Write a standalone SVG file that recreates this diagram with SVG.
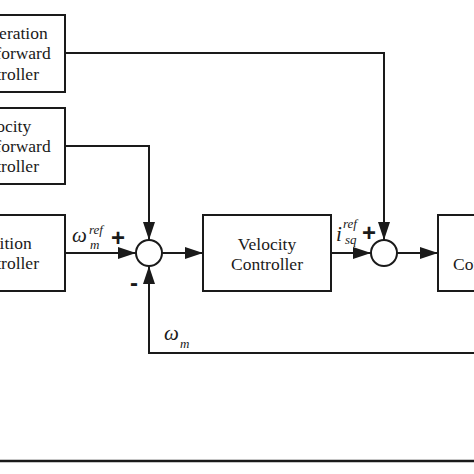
<svg xmlns="http://www.w3.org/2000/svg" width="474" height="474" viewBox="0 0 474 474">
<style>
.box{fill:#fff;stroke:#1a1a1a;stroke-width:2}
.lbl{font-family:'Liberation Serif','DejaVu Serif',serif;font-size:17.5px;fill:#1a1a1a;text-anchor:middle}
.math{font-family:'Liberation Serif','DejaVu Serif',serif;font-style:italic;fill:#1a1a1a}
.sign{font-family:'Liberation Sans','DejaVu Sans',sans-serif;font-weight:bold;fill:#1a1a1a;text-anchor:middle}
.wire{fill:none;stroke:#1a1a1a;stroke-width:2}
.sum{fill:#fff;stroke:#1a1a1a;stroke-width:2}
</style>
<defs>
<marker id="arr" viewBox="0 0 18 12" refX="18" refY="6" markerWidth="18" markerHeight="12" markerUnits="userSpaceOnUse" orient="auto">
<path d="M0,0 L18,6 L0,12 Z" fill="#1a1a1a"/>
</marker>
</defs>
<rect width="474" height="474" fill="#fff"/>
<g id="acc-ff">
<rect class="box" x="-60" y="15" width="125" height="77"/>
<text class="lbl" x="3" y="39">Acceleration</text>
<text class="lbl" x="6" y="59">Feedforward</text>
<text class="lbl" x="3" y="80">Controller</text>
</g>
<g id="vel-ff">
<rect class="box" x="-60" y="108" width="125" height="76"/>
<text class="lbl" x="2" y="132">Velocity</text>
<text class="lbl" x="6" y="152">Feedforward</text>
<text class="lbl" x="3" y="172">Controller</text>
</g>
<g id="pos">
<rect class="box" x="-60" y="215" width="125" height="76"/>
<text class="lbl" x="3" y="249">Position</text>
<text class="lbl" x="3" y="269">Controller</text>
</g>
<g id="velctl">
<rect class="box" x="203" y="215" width="128" height="76"/>
<text class="lbl" x="267" y="250">Velocity</text>
<text class="lbl" x="267" y="270">Controller</text>
</g>
<g id="curctl">
<rect class="box" x="438" y="215" width="80" height="76"/>
<text class="lbl" x="489" y="270">Controller</text>
</g>
<g id="sum1">
<circle class="sum" cx="149" cy="253" r="13"/>
</g>
<g id="sum2">
<circle class="sum" cx="384" cy="253" r="13"/>
</g>
<g id="connectors">
<path class="wire" d="M65,53 H384 V240" marker-end="url(#arr)"/>
<path class="wire" d="M65,146 H149 V240" marker-end="url(#arr)"/>
<path class="wire" d="M65,253 H136" marker-end="url(#arr)"/>
<path class="wire" d="M162,253 H203" marker-end="url(#arr)"/>
<path class="wire" d="M331,253 H371" marker-end="url(#arr)"/>
<path class="wire" d="M397,253 H438" marker-end="url(#arr)"/>
<path class="wire" d="M476,353 H149 V266" marker-end="url(#arr)"/>
</g>
<g id="labels">
<text class="math" x="72" y="242" font-size="21">ω</text>
<text class="math" x="89" y="234" font-size="13">ref</text>
<text class="math" x="90" y="249" font-size="13">m</text>
<text class="sign" x="118" y="246" font-size="24">+</text>
<text class="sign" x="134" y="291" font-size="24">-</text>
<text class="math" x="336" y="241" font-size="21">i</text>
<text class="math" x="343" y="228" font-size="13">ref</text>
<text class="math" x="345" y="244" font-size="13">sq</text>
<text class="sign" x="369" y="241" font-size="24">+</text>
<text class="math" x="164" y="340" font-size="21">ω</text>
<text class="math" x="180" y="348" font-size="13">m</text>
</g>
<line x1="0" y1="461" x2="474" y2="461" stroke="#1a1a1a" stroke-width="2.5"/>
</svg>
